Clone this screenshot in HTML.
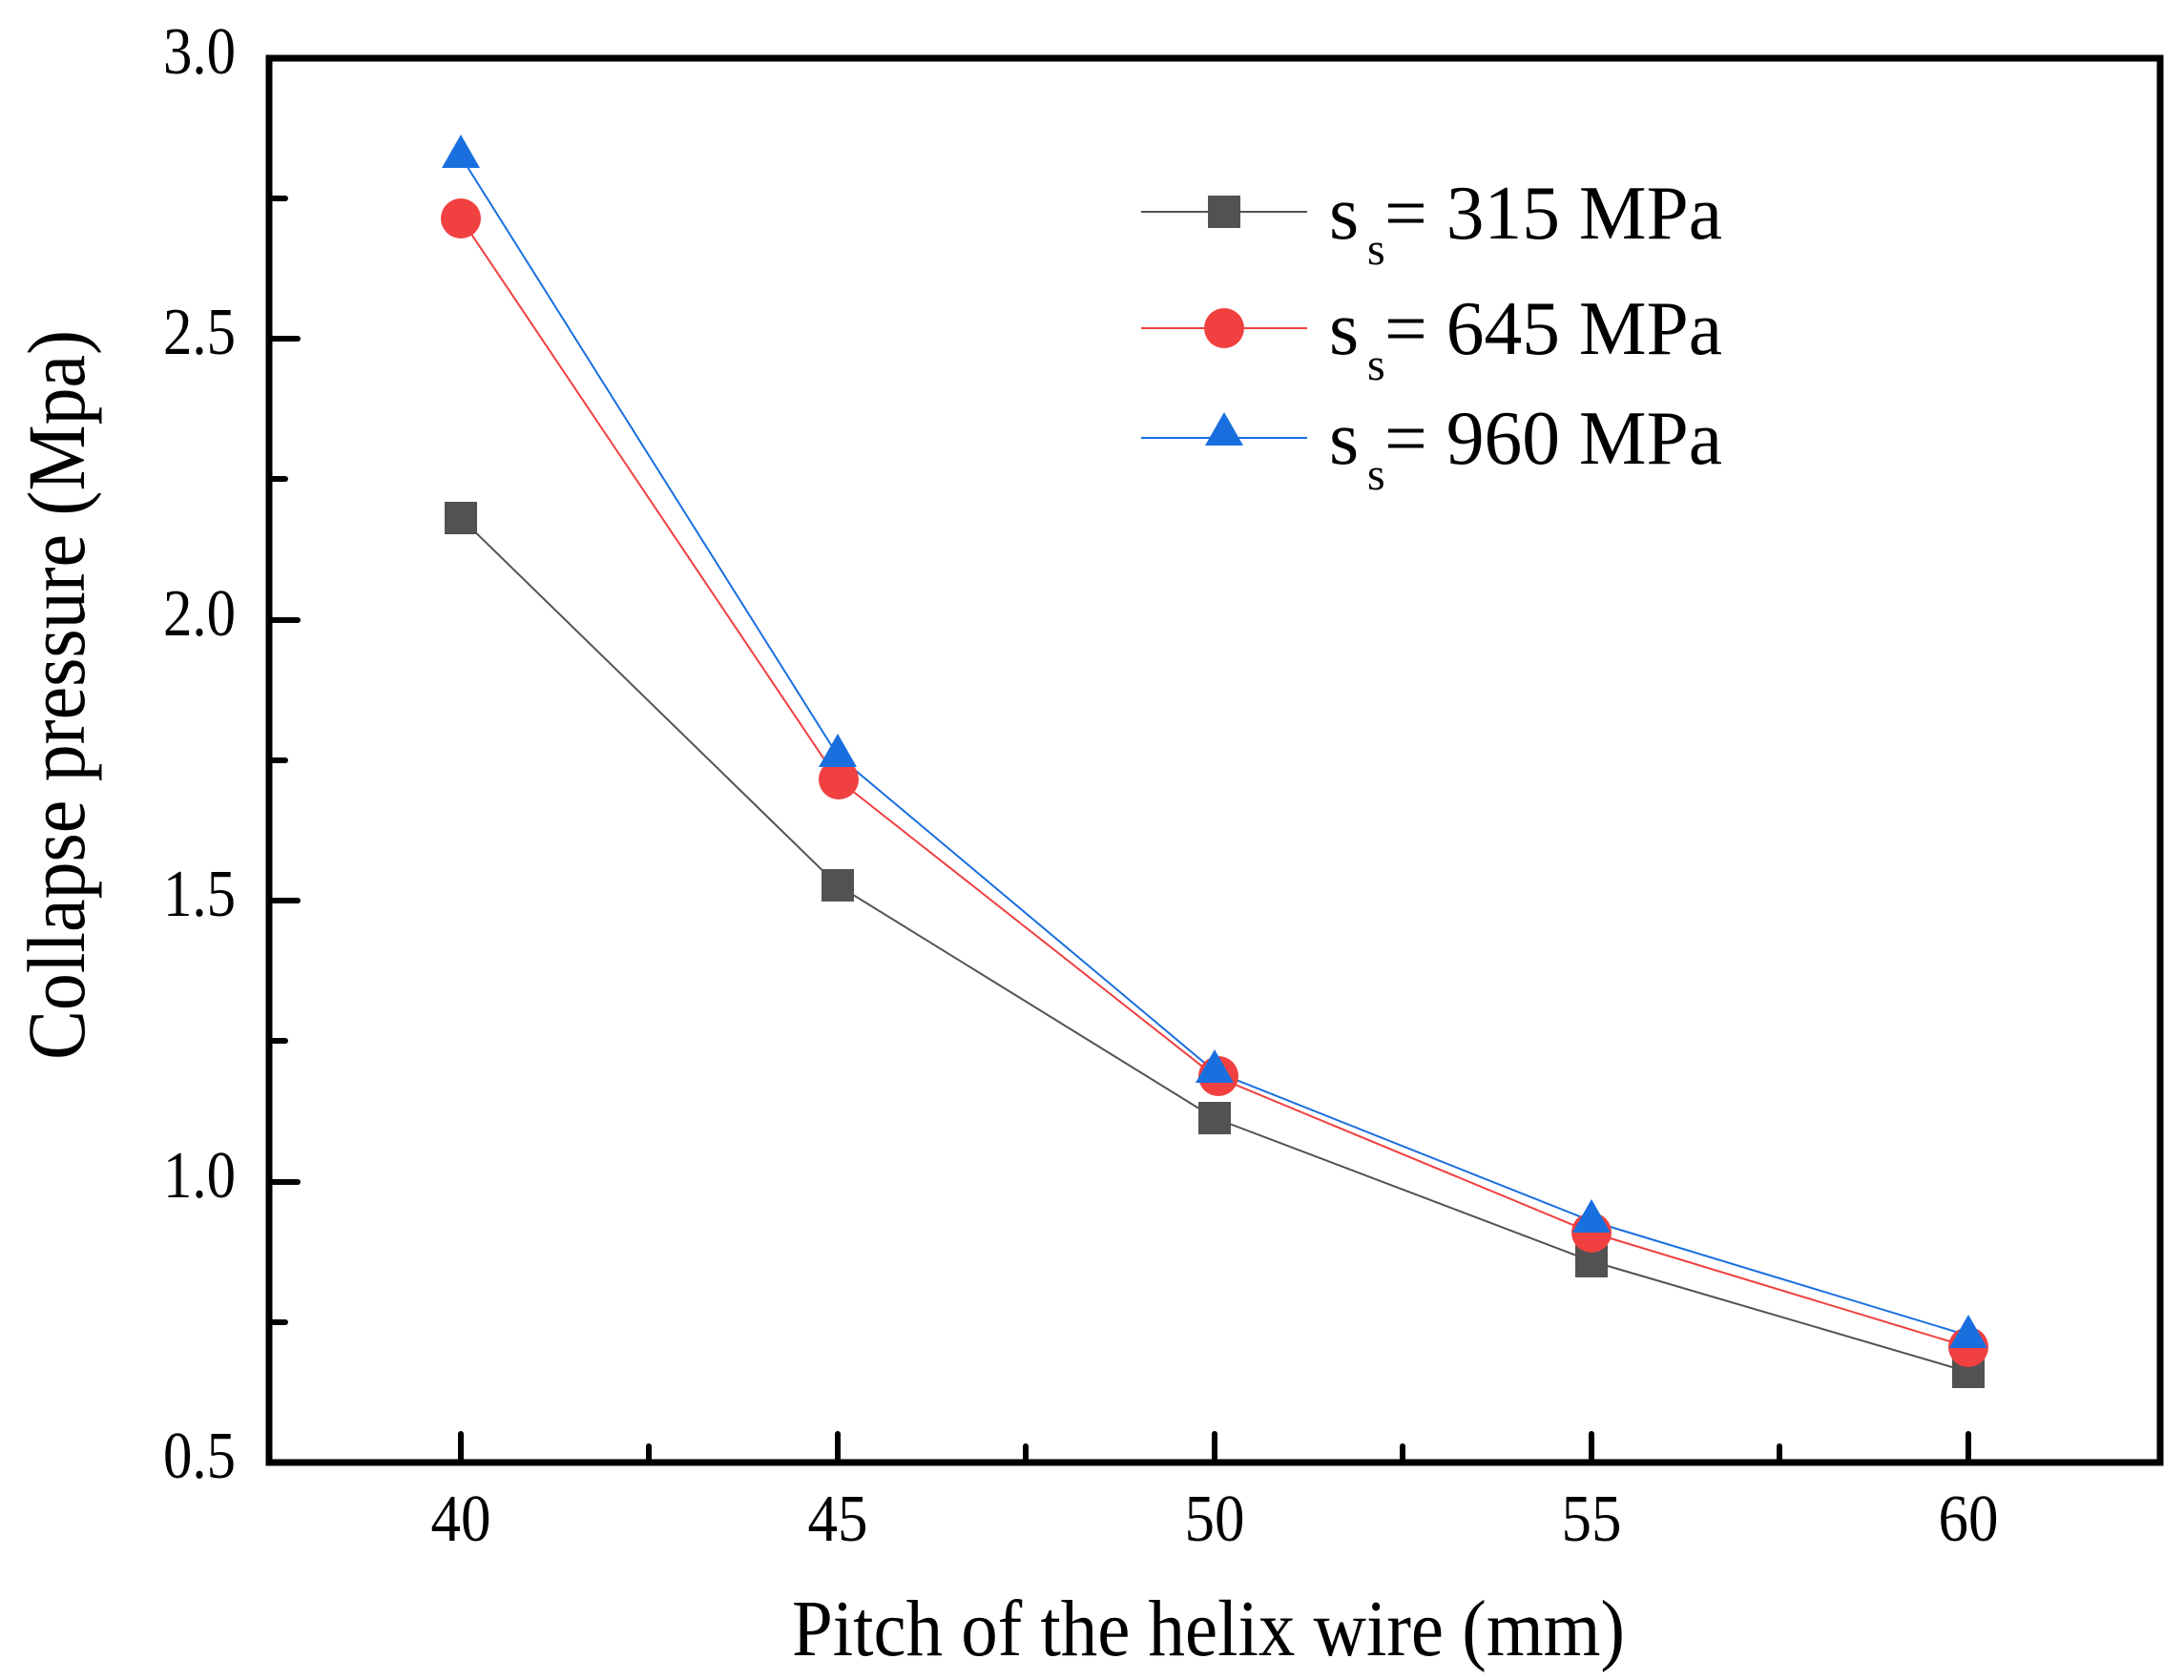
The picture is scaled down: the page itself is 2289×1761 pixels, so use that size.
<!DOCTYPE html>
<html><head><meta charset="utf-8"><style>html,body{margin:0;padding:0;background:#fff}svg{display:block}</style></head>
<body>
<svg width="2289" height="1761" viewBox="0 0 2289 1761" xmlns="http://www.w3.org/2000/svg" font-family="'Liberation Serif', serif">
<rect width="2289" height="1761" fill="#fff"/>
<g stroke="#000" stroke-width="6" stroke-linecap="round">
<line x1="483" y1="1533" x2="483" y2="1503"/>
<line x1="878" y1="1533" x2="878" y2="1503"/>
<line x1="1273" y1="1533" x2="1273" y2="1503"/>
<line x1="1668" y1="1533" x2="1668" y2="1503"/>
<line x1="2063" y1="1533" x2="2063" y2="1503"/>
<line x1="680" y1="1533" x2="680" y2="1516"/>
<line x1="1075" y1="1533" x2="1075" y2="1516"/>
<line x1="1470" y1="1533" x2="1470" y2="1516"/>
<line x1="1865" y1="1533" x2="1865" y2="1516"/>
<line x1="282" y1="355" x2="312" y2="355"/>
<line x1="282" y1="650" x2="312" y2="650"/>
<line x1="282" y1="944" x2="312" y2="944"/>
<line x1="282" y1="1239" x2="312" y2="1239"/>
<line x1="282" y1="208" x2="299" y2="208"/>
<line x1="282" y1="502" x2="299" y2="502"/>
<line x1="282" y1="797" x2="299" y2="797"/>
<line x1="282" y1="1091" x2="299" y2="1091"/>
<line x1="282" y1="1386" x2="299" y2="1386"/>
</g>
<rect x="282" y="61" width="1982" height="1472" fill="none" stroke="#000" stroke-width="7"/>
<g font-size="70" text-anchor="middle">
<text x="483" y="1615" textLength="63" lengthAdjust="spacingAndGlyphs">40</text>
<text x="878" y="1615" textLength="63" lengthAdjust="spacingAndGlyphs">45</text>
<text x="1273" y="1615" textLength="63" lengthAdjust="spacingAndGlyphs">50</text>
<text x="1668" y="1615" textLength="63" lengthAdjust="spacingAndGlyphs">55</text>
<text x="2063" y="1615" textLength="63" lengthAdjust="spacingAndGlyphs">60</text>
</g>
<g font-size="70" text-anchor="end">
<text x="247" y="77" textLength="76" lengthAdjust="spacingAndGlyphs">3.0</text>
<text x="247" y="371" textLength="76" lengthAdjust="spacingAndGlyphs">2.5</text>
<text x="247" y="666" textLength="76" lengthAdjust="spacingAndGlyphs">2.0</text>
<text x="247" y="960" textLength="76" lengthAdjust="spacingAndGlyphs">1.5</text>
<text x="247" y="1255" textLength="76" lengthAdjust="spacingAndGlyphs">1.0</text>
<text x="247" y="1549" textLength="76" lengthAdjust="spacingAndGlyphs">0.5</text>
</g>
<text x="830" y="1735" font-size="84" textLength="873" lengthAdjust="spacingAndGlyphs">Pitch of the helix wire (mm)</text>
<text transform="translate(88,1111) rotate(-90)" font-size="86" textLength="765" lengthAdjust="spacingAndGlyphs">Collapse pressure (Mpa)</text>
<polyline fill="none" stroke="#525252" stroke-width="2" points="483,543 878,928 1273,1172 1668,1322 2063,1438"/>
<polyline fill="none" stroke="#f04040" stroke-width="2" points="483,229 878,817 1273,1128 1668,1292 2063,1412"/>
<polyline fill="none" stroke="#1a6fdf" stroke-width="2" points="483,164 878,792 1273,1123 1668,1280 2063,1400"/>
<g fill="#525252">
<rect x="466" y="526" width="34" height="34"/>
<rect x="861" y="911" width="34" height="34"/>
<rect x="1256" y="1155" width="34" height="34"/>
<rect x="1651" y="1305" width="34" height="34"/>
<rect x="2046" y="1421" width="34" height="34"/>
</g>
<g fill="#f04040">
<circle cx="483" cy="229" r="21"/>
<circle cx="879" cy="817" r="21"/>
<circle cx="1277" cy="1128" r="21"/>
<circle cx="1668" cy="1292" r="21"/>
<circle cx="2063" cy="1412" r="21"/>
</g>
<g fill="#1a6fdf">
<polygon points="483,141 503,176 463,176"/>
<polygon points="878,769 898,804 858,804"/>
<polygon points="1273,1100 1293,1135 1253,1135"/>
<polygon points="1668,1257 1688,1292 1648,1292"/>
<polygon points="2063,1378 2083,1413 2043,1413"/>
</g>
<line x1="1196" y1="222" x2="1370" y2="222" stroke="#525252" stroke-width="2"/>
<rect x="1266" y="205" width="34" height="34" fill="#525252"/>
<line x1="1196" y1="344" x2="1370" y2="344" stroke="#f04040" stroke-width="2"/>
<circle cx="1283" cy="344" r="21" fill="#f04040"/>
<line x1="1196" y1="459" x2="1370" y2="459" stroke="#1a6fdf" stroke-width="2"/>
<polygon points="1283,432 1303,467 1263,467" fill="#1a6fdf"/>
<g font-size="80">
<text x="1393" y="250">s</text><text x="1433" y="277" font-size="48">s</text><text x="1451" y="250" textLength="354" lengthAdjust="spacingAndGlyphs">= 315 MPa</text>
<text x="1393" y="371">s</text><text x="1433" y="398" font-size="48">s</text><text x="1451" y="371" textLength="354" lengthAdjust="spacingAndGlyphs">= 645 MPa</text>
<text x="1393" y="486">s</text><text x="1433" y="513" font-size="48">s</text><text x="1451" y="486" textLength="354" lengthAdjust="spacingAndGlyphs">= 960 MPa</text>
</g>
</svg>
</body></html>
